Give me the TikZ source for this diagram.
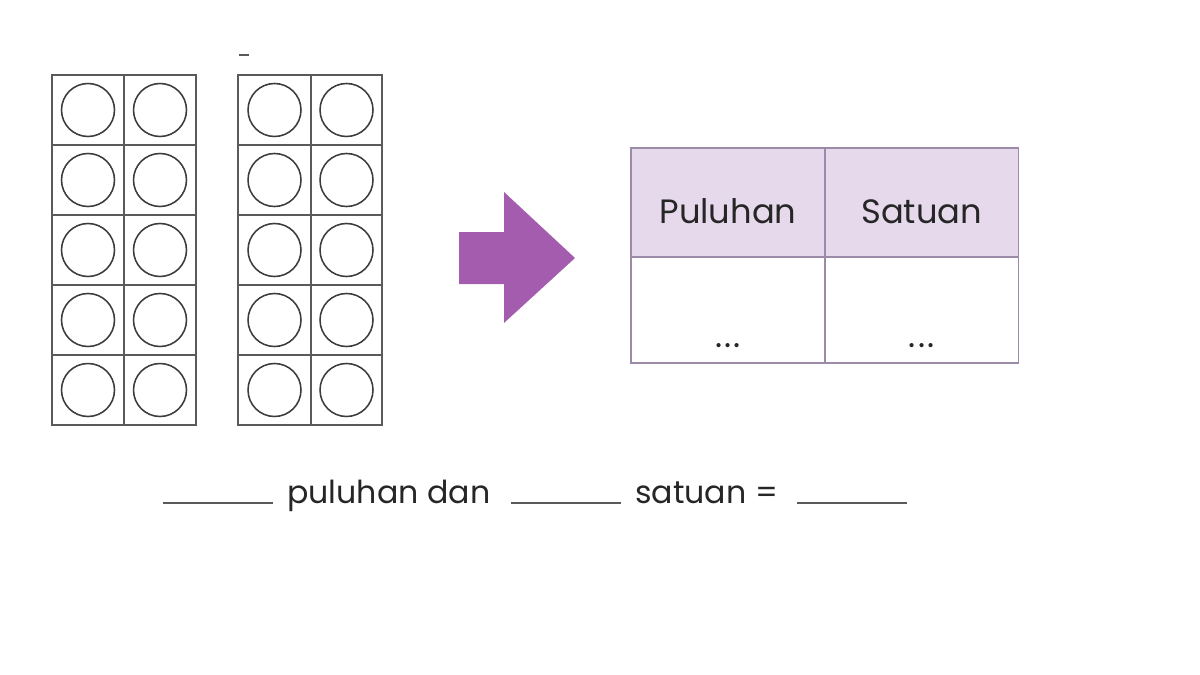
\documentclass[tikz,border=0pt]{standalone}
\usepackage{fontspec}
\setmainfont{Poppins}
\usetikzlibrary{positioning}
\definecolor{gridgray}{HTML}{5A5A5A}
\definecolor{ringgray}{HTML}{3C3C3C}
\definecolor{mauveline}{HTML}{9C8BA8}
\definecolor{headfill}{HTML}{E6D9EC}
\definecolor{arrowpurple}{HTML}{A45DAE}
\definecolor{inkgray}{HTML}{262626}

\begin{document}
\begin{tikzpicture}[x=0.025cm,y=-0.025cm,
  frame line/.style={draw=gridgray,line width=1.4pt},
  ring/.style={draw=ringgray,line width=1.1pt},
  head cell/.style={rectangle,draw=mauveline,fill=headfill,line width=1pt,outer sep=0pt,minimum width=4.84cm,minimum height=2.72cm},
  body cell/.style={rectangle,draw=mauveline,fill=white,line width=1pt,outer sep=0pt,minimum width=4.84cm,minimum height=2.65cm},
  cell text/.style={text=inkgray,font=\fontsize{24}{28}\selectfont},
  line text/.style={anchor=base west,inner sep=0pt,text=inkgray,font=\fontsize{22.5}{26}\selectfont},
  blank/.style={draw=gridgray,line width=1.1pt}]

  \useasboundingbox (0,0) rectangle (1200,675);

  % ten frames
  \foreach \left/\mid/\right in {52/124/196,238/311/382}{
    \draw[frame line] (\left,75) rectangle (\right,425);
    \draw[frame line] (\mid,75) -- (\mid,425);
    \foreach \y in {145,215,285,355}
      \draw[frame line] (\left,\y) -- (\right,\y);
    \foreach \y in {110,180,250,320,390}{
      \draw[ring] ({(\left+\mid)/2},\y) circle (26.5);
      \draw[ring] ({(\mid+\right)/2},\y) circle (26.5);
    }
  }
  \draw[gridgray,line width=1pt] (239,55) -- (249,55);

  % arrow
  \fill[arrowpurple] (459,232) -- (504,232) -- (504,192) -- (575,258)
    -- (504,323) -- (504,284) -- (459,284) -- cycle;

  % table
  \node[head cell] (P) at (728,202.5) {};
  \node[head cell] (S) [right=0pt of P] {};
  \node[body cell] (Pv) [below=0pt of P] {};
  \node[body cell] (Sv) [below=0pt of S] {};

  \node[cell text] (tP) at ([yshift=-0.22cm]P.center) {Puluhan};
  \node[cell text] (tS) at ([yshift=-0.22cm]S.center) {Satuan};
  \node[cell text,anchor=base] (dP) at ([yshift=0.38cm]Pv.south) {.\kern1.5pt.\kern1.5pt.};
  \node[cell text,anchor=base] (dS) at ([yshift=0.38cm]Sv.south) {.\kern1.5pt.\kern1.5pt.};

  % sentence
  \draw[blank] (163,503) -- (273,503);
  \node[line text] (w1) at (287,503) {puluhan dan};
  \draw[blank] (511,503) -- (621,503);
  \node[line text] (w2) at (635,503) {satuan =};
  \draw[blank] (797,503) -- (907,503);

\end{tikzpicture}
\end{document}
